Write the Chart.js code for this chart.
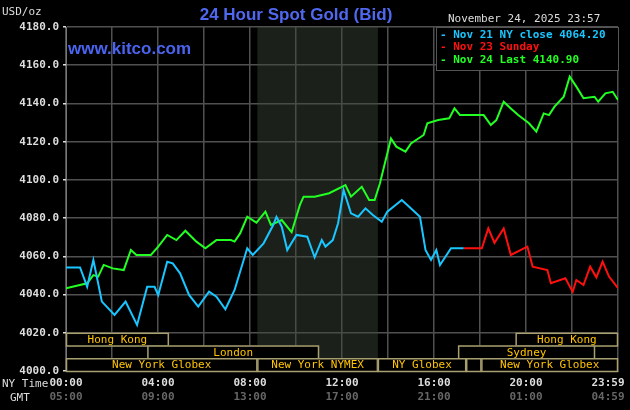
<!DOCTYPE html>
<html><head><meta charset="utf-8">
<script src="https://cdn.jsdelivr.net/npm/chart.js@4"></script>
<style>html,body{margin:0;padding:0;background:#000}canvas{display:block}</style>
</head><body>
<div style="width:630px;height:410px"><canvas id="c" width="630" height="410"></canvas></div>
<script>
const yTicks=[4000,4020,4040,4060,4080,4100,4120,4140,4160,4180];
const nyLabels=['00:00','04:00','08:00','12:00','16:00','20:00','23:59'];
const gmtLabels=['05:00','09:00','13:00','17:00','21:00','01:00','04:59'];
const labelHours=[0,4,8,12,16,20,24];
const blueH=[0,0.61,0.92,1.19,1.56,2.11,2.59,3.09,3.53,3.85,4.01,4.40,4.64,4.96,5.35,5.75,6.22,6.54,6.93,7.33,7.88,8.12,8.59,9.01,9.15,9.38,9.62,10.02,10.49,10.81,11.12,11.28,11.60,11.83,12.07,12.39,12.70,13.02,13.34,13.73,13.97,14.60,14.92,15.39,15.63,15.87,16.10,16.26,16.74,17.29];
const blueP=[4054.2,4054.2,4044.1,4058.1,4036.3,4029.3,4036.3,4024.1,4044.1,4044.1,4039.8,4057.2,4056.3,4051.1,4039.8,4033.7,4041.5,4038.9,4032.3,4042.4,4064.2,4060.7,4066.8,4076.4,4080.7,4075.5,4063.3,4071.2,4070.3,4059.5,4068.5,4065.1,4068.5,4077.3,4094.7,4082.5,4080.7,4085.1,4081.6,4078.1,4083.4,4089.5,4086.0,4080.7,4063.3,4058.1,4063.3,4055.5,4064.2,4064.2];
const redH=[17.29,18.08,18.36,18.63,19.03,19.34,20.06,20.29,20.93,21.08,21.71,22.03,22.19,22.50,22.79,23.06,23.33,23.61,24];
const redP=[4064.2,4064.2,4074.6,4067.1,4074.6,4060.7,4065.1,4054.6,4052.8,4045.9,4048.5,4041.5,4047.6,4045.0,4054.6,4049.0,4057.2,4049.4,4043.3];
const greenH=[0,0.92,1.19,1.40,1.64,2.03,2.51,2.82,3.06,3.69,4.01,4.40,4.80,5.19,5.67,6.06,6.54,7.17,7.33,7.57,7.88,8.28,8.67,8.91,9.38,9.81,10.17,10.33,10.81,11.44,12.15,12.39,12.86,13.18,13.42,13.65,14.13,14.36,14.76,15.00,15.55,15.71,16.18,16.66,16.89,17.13,18.16,18.47,18.71,19.03,19.34,19.66,20.13,20.45,20.77,21.00,21.24,21.64,21.90,22.19,22.50,22.98,23.14,23.45,23.77,24];
const greenP=[4043.3,4045.9,4050.2,4049.4,4055.5,4053.7,4052.8,4063.3,4060.7,4060.7,4065.1,4071.2,4068.5,4073.4,4067.7,4064.2,4068.5,4068.5,4067.7,4072.0,4080.7,4077.6,4083.4,4076.4,4079.0,4072.6,4086.9,4091.2,4091.2,4093.0,4097.3,4091.2,4096.4,4089.5,4089.5,4098.2,4121.7,4117.4,4114.8,4119.1,4123.5,4129.6,4131.3,4132.2,4137.4,4133.9,4133.9,4128.7,4131.3,4140.9,4137.4,4133.9,4129.6,4125.2,4134.8,4133.9,4138.3,4143.5,4154.0,4148.8,4142.7,4143.5,4140.9,4145.3,4146.1,4141.8];
const legendTexts=['- Nov 21 NY close 4064.20','- Nov 23 Sunday','- Nov 24 Last 4140.90'];
const legendColors=['#19c6ff','#ff1010','#22ff22'];
const sessStart=[0,19.55,3.54,17.05,0,8.32,13.56,17.4,18.06];
const sessEnd=[4.47,24,11.0,23.0,8.32,13.56,17.4,18.06,24];
const sessRow=[0,0,1,1,2,2,2,2,2];
const sessLabel=['Hong Kong','Hong Kong','London','Sydney','New York Globex','New York NYMEX','NY Globex','','New York Globex'];
const shadeRange=[8.32,13.56];

const mono='"DejaVu Sans Mono", monospace';
const pts=(h,p)=>h.map((x,i)=>({x,y:p[i]}));
const deco={id:'deco',
 beforeDatasetsDraw(c){const {ctx,chartArea:a,scales:{x,y}}=c;ctx.save();
  ctx.fillStyle='rgba(60,72,60,0.45)';const x0=x.getPixelForValue(shadeRange[0]),x1=x.getPixelForValue(shadeRange[1]);
  ctx.fillRect(x0,a.top,x1-x0,a.bottom-a.top);ctx.restore();},
 afterDatasetsDraw(c){const {ctx,chartArea:a,scales:{x,y}}=c;ctx.save();
  const rt=y.getPixelForValue(4020),rb=y.getPixelForValue(4000),rh=(rb-rt)/3;
  ctx.font='11px '+mono;ctx.textAlign='center';ctx.textBaseline='middle';
  for(let i=0;i<sessStart.length;i++){const x0=x.getPixelForValue(sessStart[i]),x1=x.getPixelForValue(sessEnd[i]);const t=rt+sessRow[i]*rh;
   ctx.fillStyle='#000';ctx.fillRect(x0,t,x1-x0,rh);ctx.strokeStyle='#a8a070';ctx.lineWidth=1.5;ctx.strokeRect(x0+0.5,t+0.5,x1-x0-1,rh);
   ctx.fillStyle='#ffc400';ctx.fillText(sessLabel[i],(x0+x1)/2,t+rh/2+1);}
  ctx.fillStyle='#000';ctx.fillRect(436,a.top,a.right-436,43);ctx.strokeStyle='#555';ctx.lineWidth=1;ctx.strokeRect(436.5,a.top+0.5,a.right-436,43);
  ctx.font='bold 11px '+mono;ctx.textAlign='left';
  legendTexts.forEach((t,i)=>{ctx.fillStyle=legendColors[i];ctx.fillText(t,440,a.top+8+i*12.5);});
  ctx.font='bold 17px "Liberation Sans", Arial, sans-serif';ctx.fillStyle='#4a64f0';ctx.fillText('www.kitco.com',68,a.top+22);
  ctx.restore();},
 afterDraw(c){const {ctx,chartArea:a,scales:{x}}=c;ctx.save();
  ctx.font='bold 17px "Liberation Sans", Arial, sans-serif';ctx.fillStyle='#5068f0';ctx.textAlign='center';ctx.textBaseline='middle';
  ctx.fillText('24 Hour Spot Gold (Bid)',296,15);
  ctx.font='11px '+mono;ctx.fillStyle='#ddd';ctx.textAlign='left';ctx.fillText('USD/oz',2,12);
  ctx.fillText('November 24, 2025 23:57',448,19);
  ctx.fillText('NY Time',2,384);ctx.fillText('GMT',10,398);
  ctx.font='bold 11px '+mono;ctx.textAlign='center';
  labelHours.forEach((h,i)=>{let px=x.getPixelForValue(h);if(i===labelHours.length-1)px-=10;
   ctx.fillStyle='#ddd';ctx.fillText(nyLabels[i],px,383);ctx.fillStyle='#666';ctx.fillText(gmtLabels[i],px,397);});
  ctx.restore();}};
new Chart(document.getElementById('c'),{type:'line',
 data:{datasets:[
  {data:pts(blueH,blueP),borderColor:'#19c6ff',borderWidth:2,pointRadius:0,tension:0},
  {data:pts(redH,redP),borderColor:'#ff1010',borderWidth:2,pointRadius:0,tension:0},
  {data:pts(greenH,greenP),borderColor:'#22ff22',borderWidth:2,pointRadius:0,tension:0}]},
 options:{responsive:false,animation:false,events:[],
  layout:{padding:{top:27,right:12,left:0,bottom:0}},
  plugins:{legend:{display:false},tooltip:{enabled:false}},
  scales:{
   x:{type:'linear',min:0,max:24,afterFit(s){s.height=39;},ticks:{display:false,stepSize:2},grid:{color:'#505050',lineWidth:1.5,drawTicks:false},border:{color:'#777'}},
   y:{min:4000,max:4180,afterFit(s){s.width=66;},afterBuildTicks(s){s.ticks=yTicks.map(v=>({value:v}));},
      ticks:{color:'#ddd',font:{family:'DejaVu Sans Mono',size:11,weight:'bold'},callback:v=>v.toFixed(1),padding:4},
      grid:{color:'#505050',lineWidth:1.5,drawTicks:true,tickLength:3,tickColor:'#ddd'},border:{color:'#777'}}}},
 plugins:[deco]});
</script></body></html>
